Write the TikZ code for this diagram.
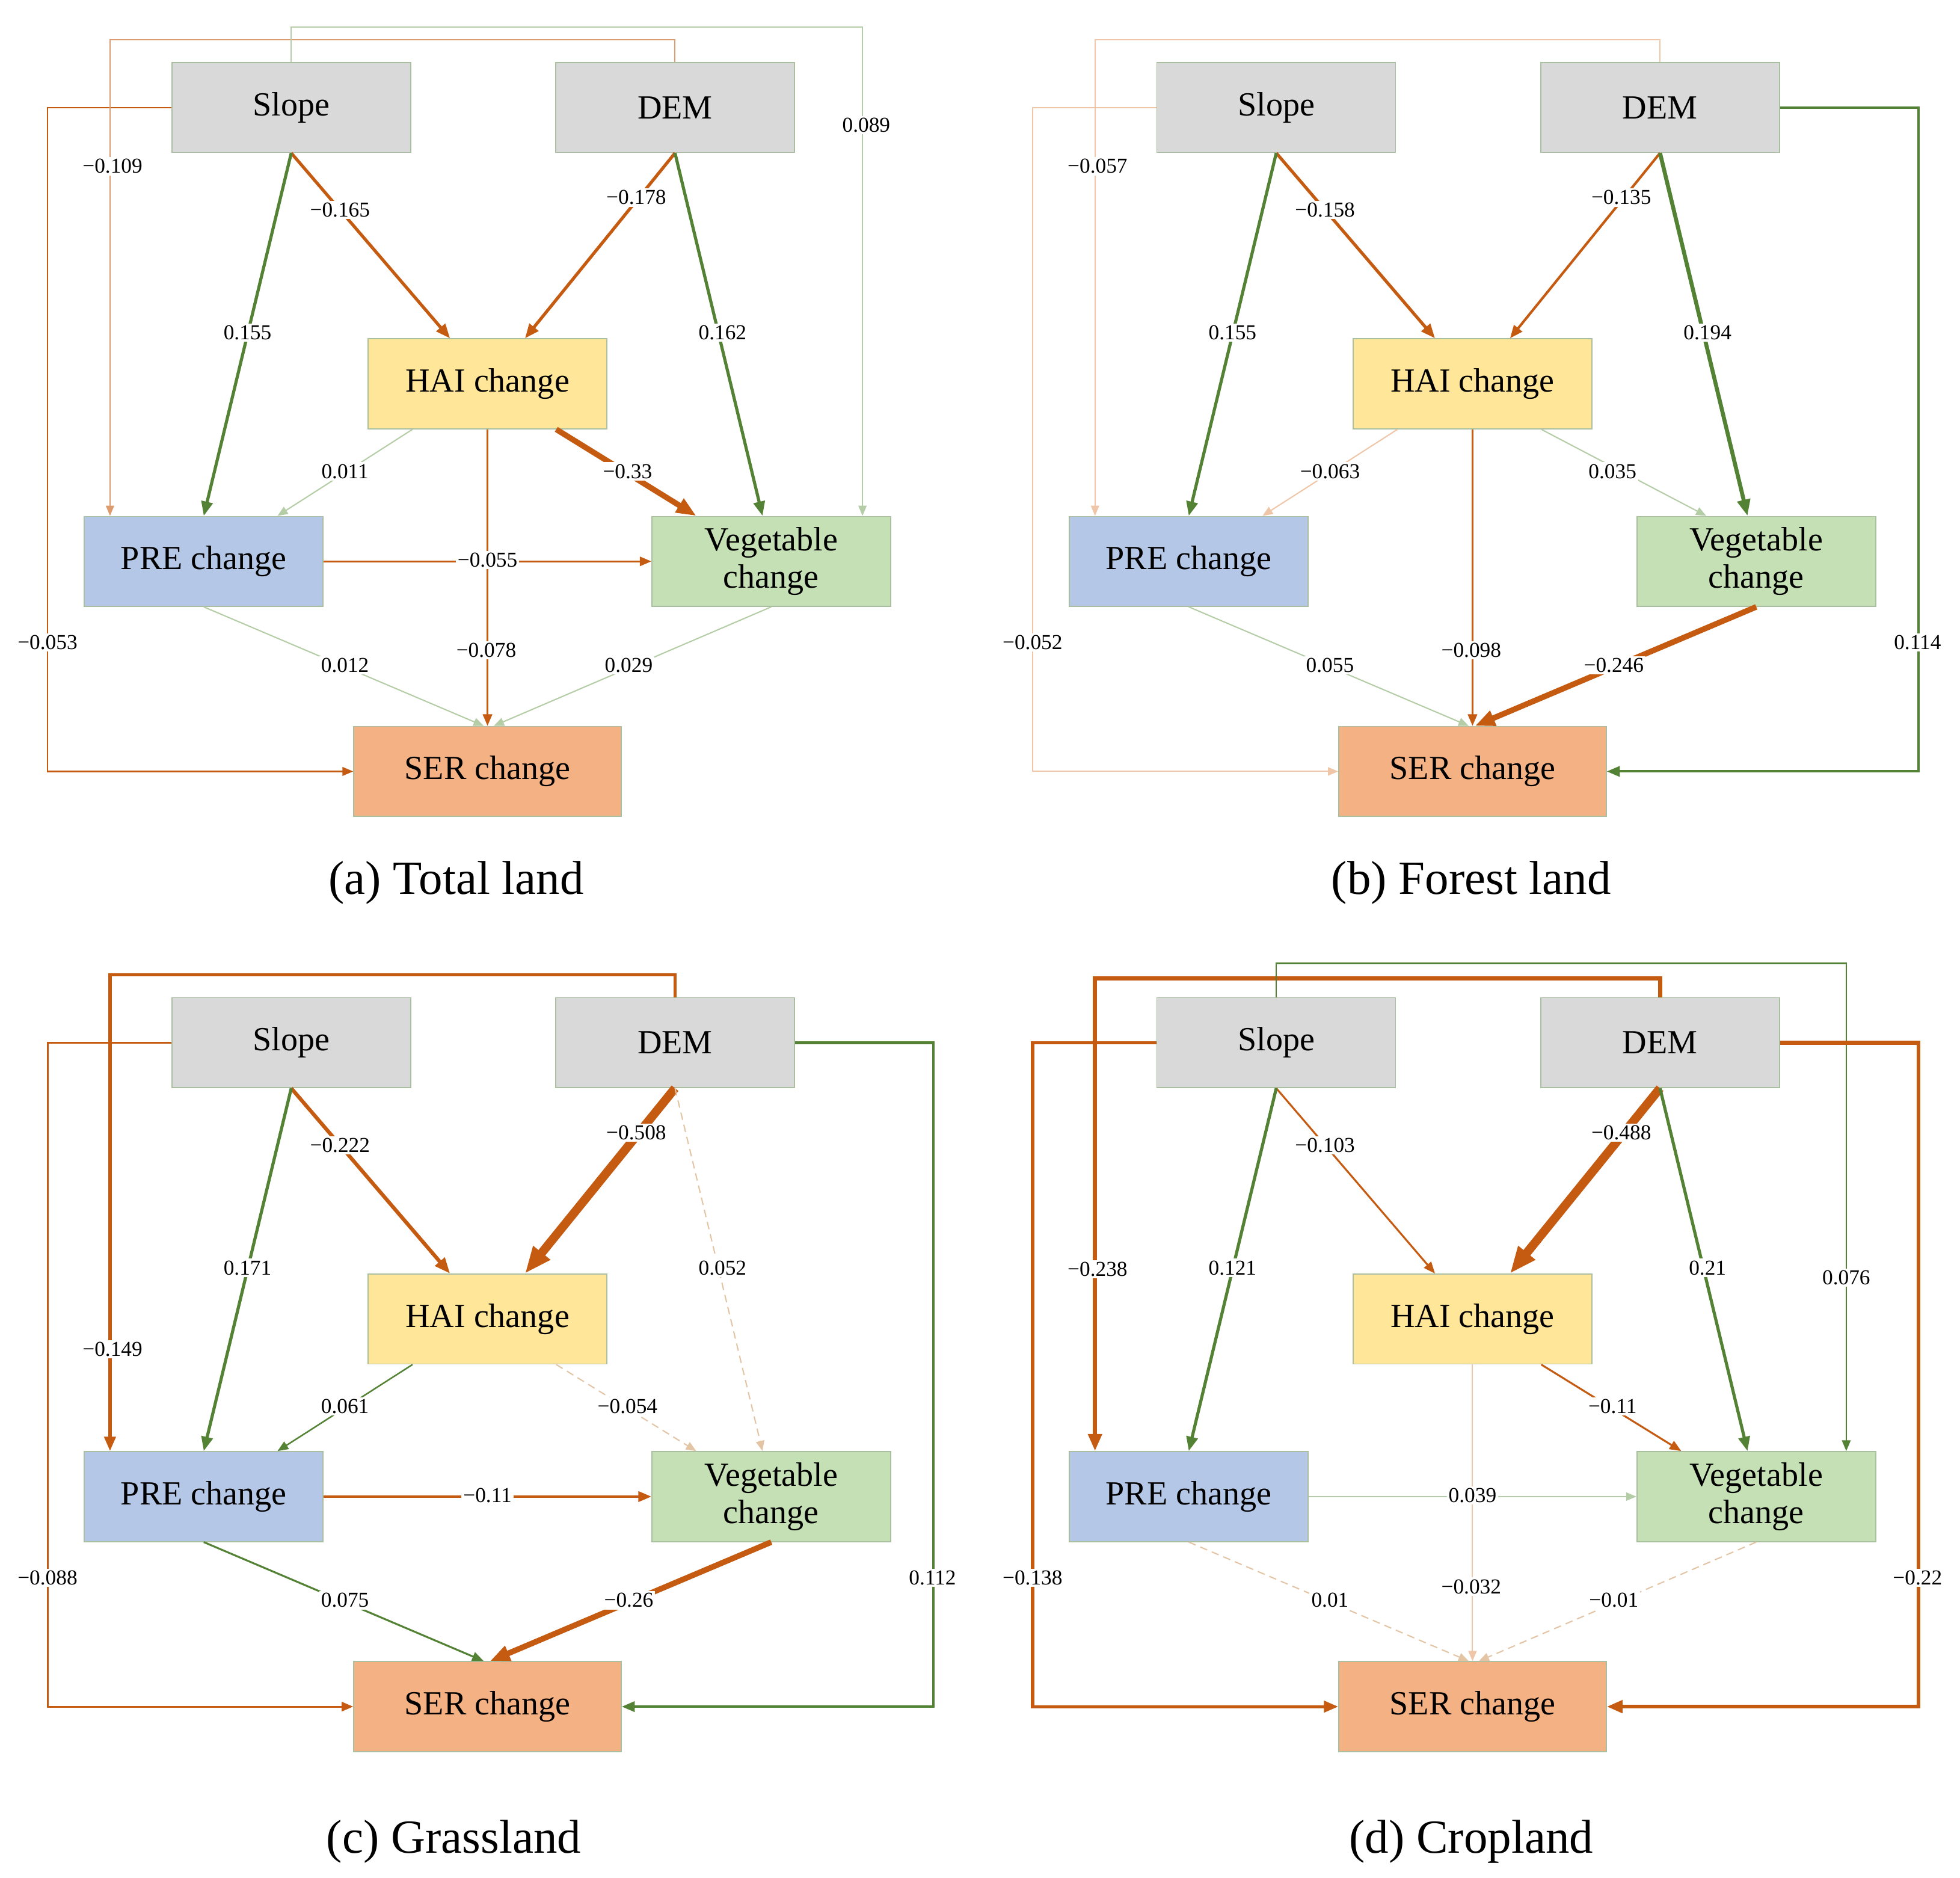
\documentclass[tikz,border=0pt]{standalone}
\usepackage{fontspec}
\setmainfont{Liberation Serif}
\usetikzlibrary{arrows.meta}
\definecolor{orc}{HTML}{C55A11}
\definecolor{grc}{HTML}{548235}
\definecolor{forc}{HTML}{F0C6A8}
\definecolor{fgrc}{HTML}{B5CDA6}
\definecolor{dsh}{HTML}{E3C4A4}
\definecolor{bd}{HTML}{A9BFA0}
\tikzset{
 bx/.style={draw=bd,line width=0.8pt,minimum width=191pt,minimum height=72pt,inner sep=0pt,align=center,font=\fontsize{27}{36}\selectfont},
 lab/.style={fill=white,inner sep=1.5pt,font=\fontsize{17}{18}\selectfont},
 captn/.style={font=\fontsize{38}{40}\selectfont},
 ar/.style={-{Triangle[length=#1*2.2+6pt,width=#1*1.6+5pt]},line width=#1},
 O/.style={draw=orc,ar=#1},
 G/.style={draw=grc,ar=#1},
 fO/.style={draw=forc,ar=1},
 fG/.style={draw=fgrc,ar=1},
 dO/.style={draw=dsh,ar=1,dash pattern=on 6pt off 4pt},
}
\newcommand{\boxes}[1]{%
 \node[bx,fill=gray!30] (#1S) at (233,86) {Slope};
 \node[bx,fill=gray!30] (#1D) at (540,86) {DEM};
 \node[bx,fill={rgb,255:red,255;green,230;blue,153}] (#1H) at (390,307) {HAI change};
 \node[bx,fill={rgb,255:red,180;green,199;blue,231}] (#1P) at (163,449) {PRE change};
 \node[bx,fill={rgb,255:red,197;green,224;blue,180}] (#1V) at (617,449) {Vegetable\\[-6pt]change};
 \node[bx,minimum width=214pt,fill={rgb,255:red,244;green,177;blue,131}] (#1R) at (390,617) {SER change};
}
\newcommand{\lb}[3]{\node[lab] at (#1,#2) {#3};}
\begin{document}
\begin{tikzpicture}[x=1pt,y=-1pt]
\useasboundingbox[fill=white] (0,0) rectangle (1568,1502);
% (a)
\begin{scope}
\boxes{a}
\draw[O=2.5] (aS.south) -- ([xshift=-30]aH.north);
\draw[O=2.5] (aD.south) -- ([xshift=30]aH.north);
\draw[G=2.5] (aS.south) -- (aP.north);
\draw[G=2.5] (aD.south) -- ([xshift=-7]aV.north);
\draw[fG] ([xshift=-60]aH.south) -- ([xshift=59]aP.north);
\draw[O=4.5] ([xshift=55]aH.south) -- ([xshift=-60]aV.north);
\draw[O=1.5] (aH.south) -- (aR.north);
\draw[O=1.5] (aP.east) -- (aV.west);
\draw[fG] (aP.south) -- ([xshift=-3]aR.north);
\draw[fG] (aV.south) -- ([xshift=5]aR.north);
\draw[O=1.2] (aS.west) -- ++(-99,0) |- (aR.west);
\draw[draw=orc!60,ar=1] (aD.north) -- ++(0,-18) -| ([xshift=-75]aP.north);
\draw[fG] (aS.north) -- ++(0,-28) -| ([xshift=73]aV.north);
\lb{272}{168}{−0.165}\lb{509}{158}{−0.178}\lb{198}{266}{0.155}\lb{578}{266}{0.162}
\lb{276}{377}{0.011}\lb{502}{377}{−0.33}\lb{389}{520}{−0.078}\lb{390}{448}{−0.055}
\lb{276}{532}{0.012}\lb{503}{532}{0.029}\lb{38}{514}{−0.053}\lb{90}{133}{−0.109}\lb{693}{100}{0.089}
\node[captn] (ca) at (365,706) {(a) Total land};
\end{scope}
% (b)
\begin{scope}[shift={(788,0)}]
\boxes{b}
\draw[O=2.5] (bS.south) -- ([xshift=-30]bH.north);
\draw[O=2] (bD.south) -- ([xshift=30]bH.north);
\draw[G=2.5] (bS.south) -- (bP.north);
\draw[G=3.2] (bD.south) -- ([xshift=-7]bV.north);
\draw[fO] ([xshift=-60]bH.south) -- ([xshift=59]bP.north);
\draw[fG] ([xshift=55]bH.south) -- ([xshift=-40]bV.north);
\draw[O=1.5] (bH.south) -- (bR.north);
\draw[O=4.5] (bV.south) -- ([xshift=2]bR.north);
\draw[fG] (bP.south) -- ([xshift=-3]bR.north);
\draw[fO] (bS.west) -- ++(-99,0) |- (bR.west);
\draw[fO] (bD.north) -- ++(0,-18) -| ([xshift=-75]bP.north);
\draw[G=2] (bD.east) -- ++(111,0) |- (bR.east);
\lb{272}{168}{−0.158}\lb{509}{158}{−0.135}\lb{198}{266}{0.155}\lb{578}{266}{0.194}
\lb{276}{377}{−0.063}\lb{502}{377}{0.035}\lb{389}{520}{−0.098}
\lb{276}{532}{0.055}\lb{503}{532}{−0.246}\lb{38}{514}{−0.052}\lb{90}{133}{−0.057}\lb{746}{514}{0.114}
\node[captn] (cb) at (389,706) {(b) Forest land};
\end{scope}
% (c)
\begin{scope}[shift={(0,748)}]
\boxes{c}
\draw[O=3] (cS.south) -- ([xshift=-30]cH.north);
\draw[O=7] (cD.south) -- ([xshift=30]cH.north);
\draw[G=2.5] (cS.south) -- (cP.north);
\draw[dO] (cD.south) -- ([xshift=-7]cV.north);
\draw[G=1.2] ([xshift=-60]cH.south) -- ([xshift=59]cP.north);
\draw[dO] ([xshift=55]cH.south) -- ([xshift=-60]cV.north);
\draw[O=2] (cP.east) -- (cV.west);
\draw[G=1.5] (cP.south) -- ([xshift=-3]cR.north);
\draw[O=4.5] (cV.south) -- ([xshift=2]cR.north);
\draw[O=1.5] (cS.west) -- ++(-99,0) |- (cR.west);
\draw[O=2.5] (cD.north) -- ++(0,-18) -| ([xshift=-75]cP.north);
\draw[G=2] (cD.east) -- ++(111,0) |- (cR.east);
\lb{272}{168}{−0.222}\lb{509}{158}{−0.508}\lb{198}{266}{0.171}\lb{578}{266}{0.052}
\lb{276}{377}{0.061}\lb{502}{377}{−0.054}\lb{390}{448}{−0.11}
\lb{276}{532}{0.075}\lb{503}{532}{−0.26}\lb{38}{514}{−0.088}\lb{90}{331}{−0.149}\lb{746}{514}{0.112}
\node[captn] (cc) at (363,725) {(c) Grassland};
\end{scope}
% (d)
\begin{scope}[shift={(788,748)}]
\boxes{d}
\draw[O=1.5] (dS.south) -- ([xshift=-30]dH.north);
\draw[O=7] (dD.south) -- ([xshift=30]dH.north);
\draw[G=2.5] (dS.south) -- (dP.north);
\draw[G=2.5] (dD.south) -- ([xshift=-7]dV.north);
\draw[O=1.5] ([xshift=55]dH.south) -- ([xshift=-60]dV.north);
\draw[fO] (dH.south) -- (dR.north);
\draw[fG] (dP.east) -- (dV.west);
\draw[dO] (dP.south) -- ([xshift=-3]dR.north);
\draw[dO] (dV.south) -- ([xshift=5]dR.north);
\draw[O=2.5] (dS.west) -- ++(-99,0) |- (dR.west);
\draw[O=3.5] (dD.north) -- ++(0,-15) -| ([xshift=-75]dP.north);
\draw[G=1.2] (dS.north) -- ++(0,-27) -| ([xshift=72]dV.north);
\draw[O=3] (dD.east) -- ++(111,0) |- (dR.east);
\lb{272}{168}{−0.103}\lb{509}{158}{−0.488}\lb{198}{266}{0.121}\lb{578}{266}{0.21}
\lb{502}{377}{−0.11}\lb{389}{521}{−0.032}\lb{390}{448}{0.039}
\lb{276}{532}{0.01}\lb{503}{532}{−0.01}\lb{38}{514}{−0.138}\lb{90}{267}{−0.238}\lb{746}{514}{−0.22}\lb{689}{274}{0.076}
\node[captn] (cd) at (389,725) {(d) Cropland};
\end{scope}
\end{tikzpicture}
\end{document}
